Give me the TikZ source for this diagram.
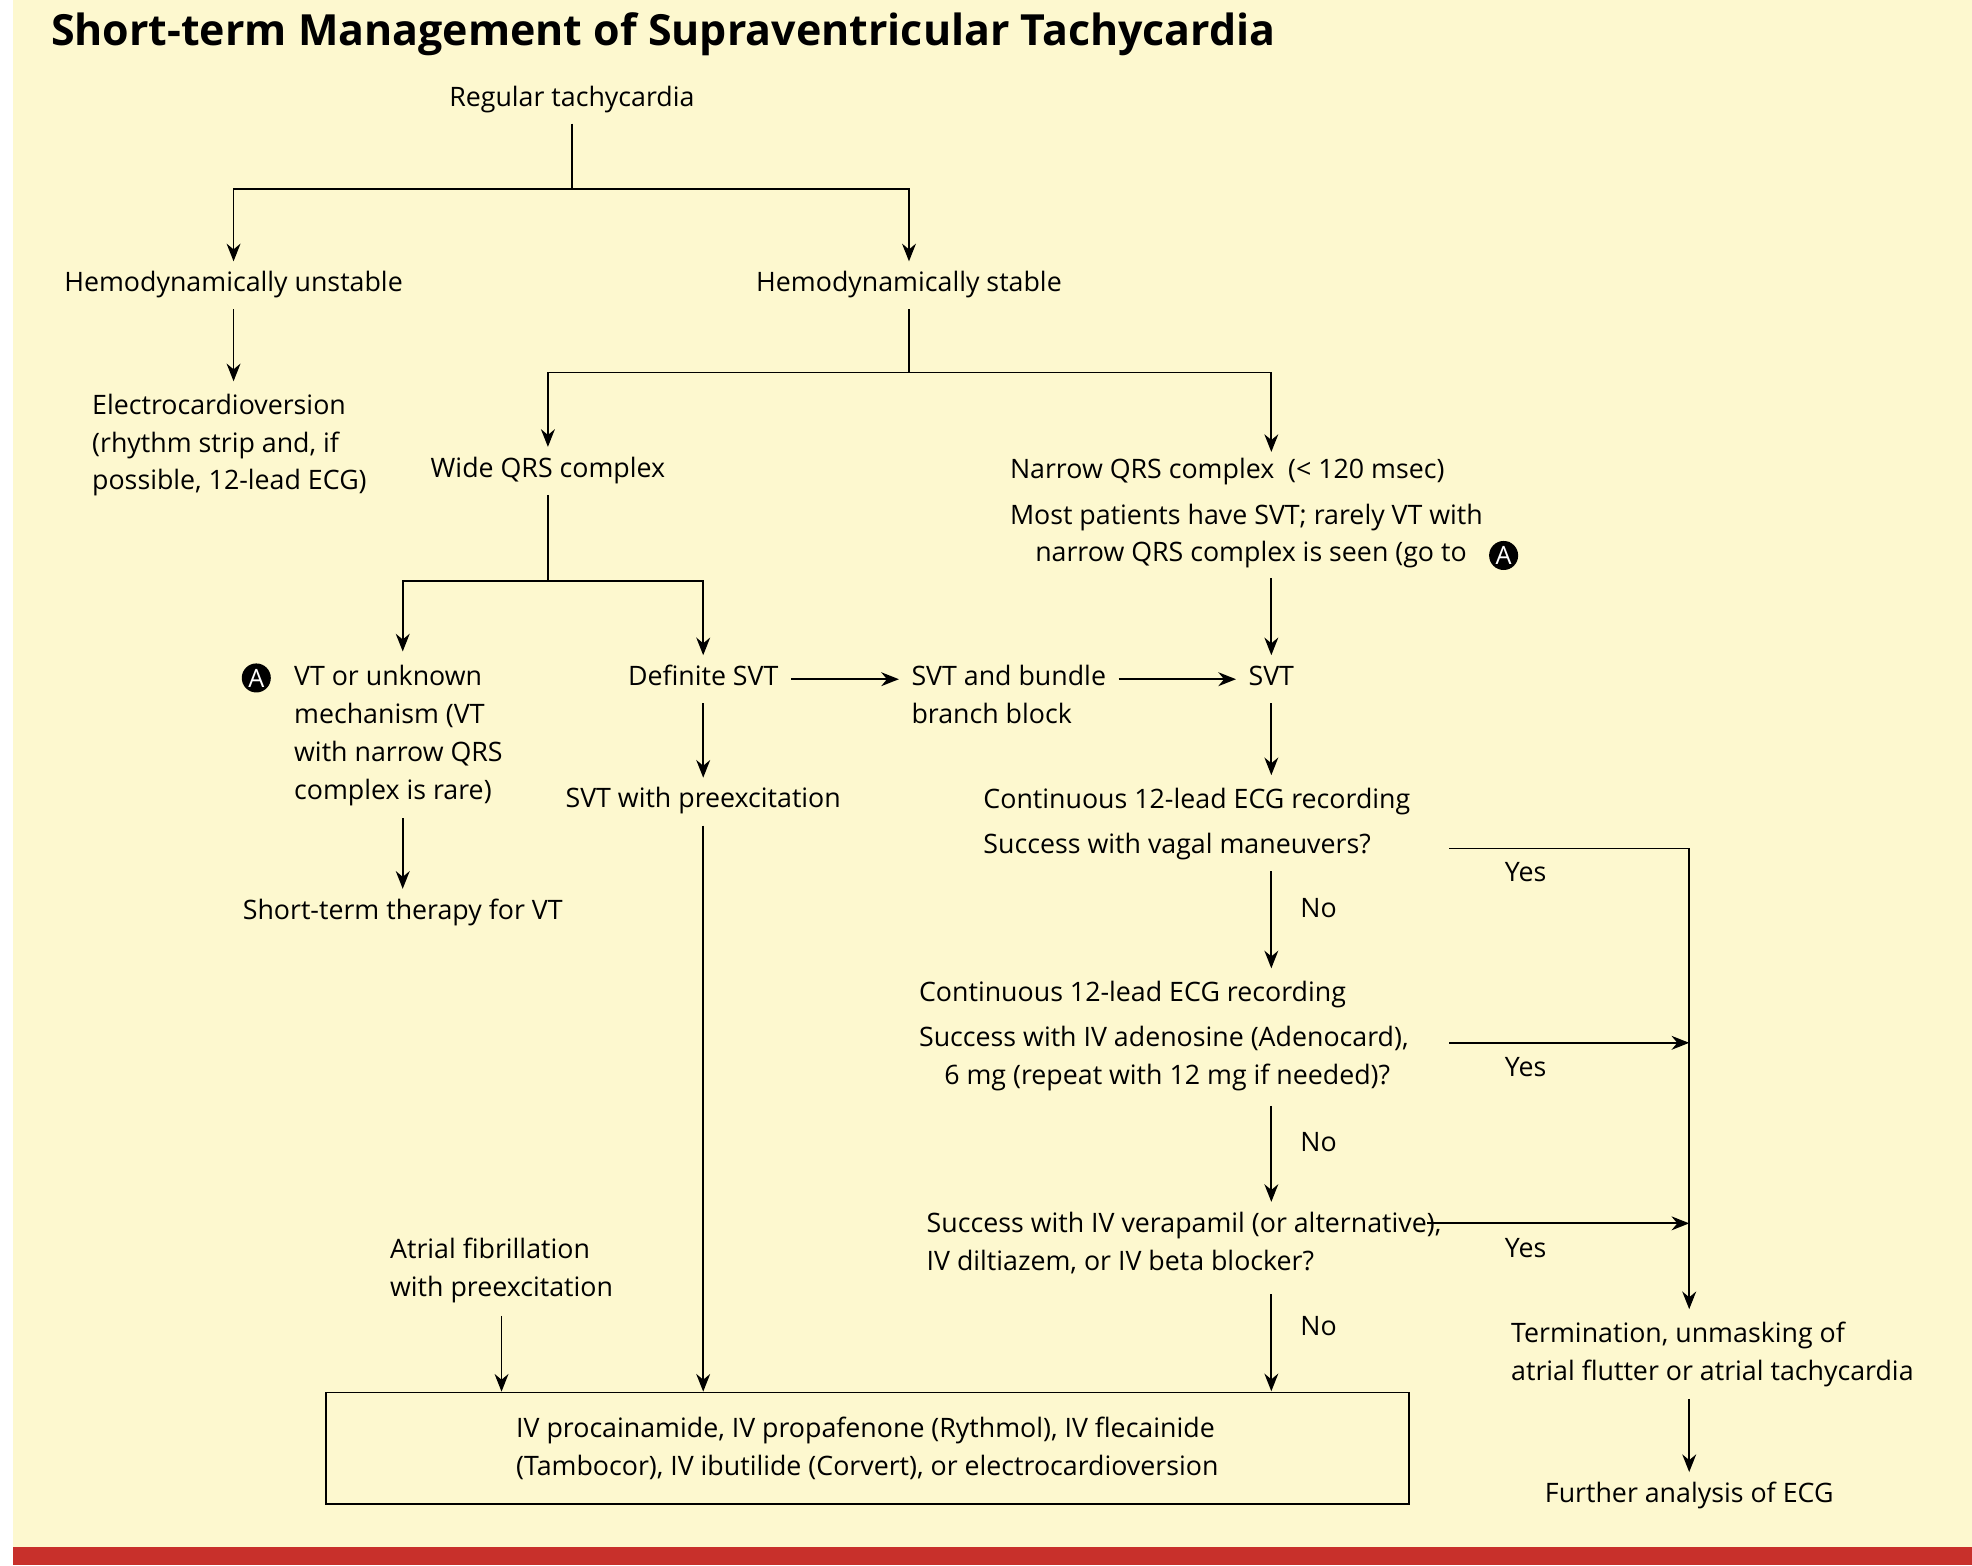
\documentclass[tikz,border=0pt]{standalone}
\usepackage{fontspec}
\setmainfont{Open Sans}
\usetikzlibrary{arrows.meta}
\definecolor{bg}{HTML}{FDF8CF}
\definecolor{barred}{HTML}{C8302B}
\begin{document}
\begin{tikzpicture}[x=0.5pt,y=-0.5pt,
  t/.style={inner sep=0pt,outer sep=5pt,font=\fontsize{10.6}{15}\selectfont,text height=7pt,text depth=2pt},
  ml/.style={inner sep=0pt,outer sep=5pt,font=\fontsize{10.6}{15}\selectfont,align=left,anchor=north west},
  arr/.style={-{Stealth[length=7pt,width=5.5pt]},line width=0.7pt},
  ln/.style={line width=0.7pt},
  circ/.style={circle,fill=black,text=white,inner sep=0pt,minimum size=11.5pt,font=\fontsize{10}{10}\selectfont}]
\useasboundingbox (0,0) rectangle (1562,1240);
\fill[bg] (10,0) rectangle (1562,1225);
\fill[barred] (10,1225) rectangle (1562,1240);
\node[anchor=base west,inner sep=0pt,font=\fontsize{17}{20}\selectfont\bfseries] (title) at (40,36) {Short-term Management of Supraventricular Tachycardia};

\node[t,anchor=base] (rt) at (453,84) {Regular tachycardia};
\node[t,anchor=base] (hu) at (185,231) {Hemodynamically unstable};
\node[t,anchor=base] (hs) at (720,231) {Hemodynamically stable};
\node[ml] (ec) at (63,302) {Electrocardioversion\\(rhythm strip and, if\\possible, 12-lead ECG)};
\node[t,anchor=base] (wq) at (434,378) {Wide QRS complex};
\node[ml] (nq) at (790,353) {Narrow QRS complex\ \ (< 120 msec)\\[3pt]Most patients have SVT; rarely VT with\\\hspace{10pt}narrow QRS complex is seen (go to \hspace{13pt})};
\node[circ] (ca2) at (1191,440) {A};
\node[circ] (ca1) at (203,537) {A};
\node[ml] (vt) at (223,517) {VT or unknown\\mechanism (VT\\with narrow QRS\\complex is rare)};
\node[t,anchor=base] (ds) at (557,543) {Definite SVT};
\node[ml] (bb) at (712,517) {SVT and bundle\\branch block};
\node[t,anchor=base] (svt) at (1007,543) {SVT};
\node[t,anchor=base] (st) at (319,728) {Short-term therapy for VT};
\node[t,anchor=base] (sp) at (557,640) {SVT with preexcitation};
\node[ml] (c1) at (769,614) {Continuous 12-lead ECG recording\\[3pt]Success with vagal maneuvers?};
\node[ml] (c2) at (718,767) {Continuous 12-lead ECG recording\\[3pt]Success with IV adenosine (Adenocard),\\\hspace{10pt}6 mg (repeat with 12 mg if needed)?};
\node[ml] (c3) at (724,950) {Success with IV verapamil (or alternative),\\IV diltiazem, or IV beta blocker?};
\node[ml] (af) at (299,971) {Atrial fibrillation\\with preexcitation};
\node[ml] (tm) at (1187,1037) {Termination, unmasking of\\atrial flutter or atrial tachycardia};
\node[t,anchor=base] (fa) at (1338,1190) {Further analysis of ECG};
\node[draw,line width=0.7pt,minimum width=429pt,minimum height=44pt,inner sep=0pt,font=\fontsize{10.6}{15}\selectfont,align=left] (box) at (687,1147) {IV procainamide, IV propafenone (Rythmol), IV flecainide\\(Tambocor), IV ibutilide (Corvert), or electrocardioversion};

\foreach \n/\x/\y in {y1/1192/698,y2/1192/853,y3/1192/996,n1/1030/727,n2/1030/912,n3/1030/1058}
  {\node[t,anchor=base west,outer sep=0pt] (\n) at (\x,\y) {\ifnum\x=1192 Yes\else No\fi};}

% connectors
\coordinate (j0) at (453,150);
\draw[ln] (rt.south) -- (j0);
\draw[arr] (j0) -| (hu.north);
\draw[arr] (j0) -| (hs.north);
\draw[arr] (hu.south) -- (hu.south |- ec.north);
\coordinate (j1) at (720,295);
\draw[ln] (hs.south) -- (j1);
\draw[arr] (j1) -| (wq.north);
\draw[arr] (j1) -| (1007,358);
\coordinate (j2) at (434,460);
\draw[ln] (wq.south) -- (j2);
\draw[arr] (j2) -| (319,516);
\draw[arr] (j2) -| (ds.north);
\draw[arr] (1007,458) -- (svt.north);
\draw[arr] (ds.east) -- (bb.west |- ds.east);
\draw[arr] (bb.east |- svt.west) -- (svt.west);
\draw[arr] (319,648) -- (st.north);
\draw[arr] (ds.south) -- (sp.north);
\draw[arr] (sp.south) -- (sp.south |- box.north);
\draw[arr] (svt.south) -- (svt.south |- c1.north);
\coordinate (r1) at (1148,672);
\coordinate (sp1) at (1338,672);
\draw[arr] (r1) -- (sp1) -- (sp1 |- tm.north);
\draw[arr] (1148,826) -- (1338,826);
\draw[arr] (1130,969) -- (1338,969);
\draw[arr] (1007,690) -- (1007,767);
\draw[arr] (1007,876) -- (1007,952);
\draw[arr] (1007,1025) -- (1007 ,1102);
\draw[arr] (af.south) -- (af.south |- box.north);
\draw[arr] (1338,1108) -- (fa.north);
\end{tikzpicture}
\end{document}
